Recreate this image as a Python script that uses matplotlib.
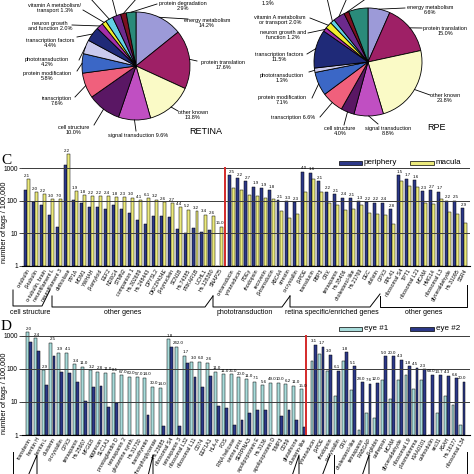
import numpy as np
import matplotlib
matplotlib.use('Agg')
import matplotlib.pyplot as plt
from matplotlib.patches import Rectangle
from matplotlib.lines import Line2D
from matplotlib.ticker import NullLocator

plt.rcParams['font.family'] = ['Liberation Sans', 'DejaVu Sans']

W = H = 474
fig = plt.figure(figsize=(4.74, 4.74), dpi=100)


def fx(x):
    return x / W


def fy(y):
    return 1 - y / H


# ---------------- data: pies ----------------
pie_categories = ['energy metabolism', 'protein translation', 'other known', 'signal transduction',
                  'cell structure', 'transcription', 'protein modification', 'phototransduction',
                  'transcription factors', 'neuron growth and function',
                  'vitamin A metabolism/transport', 'cell cycle', 'immune response',
                  'lipid metabolism', 'protein degradation']
retina_pct = [14.2, 17.6, 13.8, 9.6, 10.0, 7.6, 5.8, 4.2, 4.4, 2.0, 1.3, 2.3, 2.5, 1.7, 2.9]
rpe_pct = [6.6, 15.0, 23.8, 8.8, 4.0, 6.6, 7.1, 1.3, 11.5, 1.2, 2.0, 1.3, 3.5, 1.5, 5.8]
pie_colors = ['#9c9ad8', '#9e2066', '#fafac6', '#c04fc2', '#5a1764', '#f0607c', '#3b67c6',
              '#cacaee', '#1f2a78', '#a22eaa', '#f2ee2e', '#62d2e6', '#6c2a8c', '#7a1022',
              '#2a8a7a']

retina_texts = ['energy metabolism\n14.2%', 'protein translation\n17.6%', 'other known\n13.8%',
                'signal transduction 9.6%', 'cell structure\n10.0%', 'transcription\n7.6%',
                'protein modification\n5.8%', 'phototransduction\n4.2%',
                'transcription factors\n4.4%', 'neuron growth\nand function 2.0%',
                'vitamin A metabolism/\ntransport 1.3%', None, None, None,
                'protein degradation\n2.9%']
retina_text_pos = [(207, 23), (223, 65), (193, 115), (138, 136), (74, 130), (57, 101),
                   (47, 76), (47, 62), (50, 43), (50, 26), (55, 8), None, None, None, (183, 6)]
retina_line_end = [(188, 19), (197, 61), (178, 111), (136, 131), (94, 125), (75, 97),
                   (77, 71), (79, 60), (77, 37), (72, 25), (83, 10), (90, -2), (112, -2),
                   (137, -2), (157, 4)]

rpe_texts = ['energy metabolism\n6.6%', 'protein translation\n15.0%', 'other known\n23.8%',
             'signal transduction\n8.8%', 'cell structure\n4.0%', 'transcription 6.6%',
             'protein modification\n7.1%', 'phototransduction\n1.3%',
             'transcription factors\n11.5%', 'neuron growth and\nfunction 1.2%',
             'vitamin A metabolism\nor transport 2.0%', 'cell cycle\n1.3%', None, None, None]
rpe_text_pos = [(430, 10), (445, 31), (445, 98), (388, 131), (340, 131), (293, 117),
                (282, 100), (282, 78), (279, 57), (283, 35), (280, 20), (268, 1), None, None,
                None]
rpe_line_end = [(405, 8), (422, 28), (430, 95), (378, 124), (344, 125), (320, 117),
                (312, 98), (309, 72), (307, 54), (308, 33), (310, 18), (327, -2), (347, -2),
                (367, -2), None]

# ---------------- data: panel C ----------------
c_genes_left = ['α-tubulin', 'β-tubulin', 'α-tubulin, brain', 'neurofilament L',
                'neurofilament 3', 'dethiolase', 'PP1A', 'MOM1', 'YWHAH', 'β-amyloid', 'EEF2',
                'NDRG4', 'STMN2', 'companion 1', 'Hs.302689', 'Hs.248443', 'DPYSL2',
                'DKFZP434E', 'β-synuclein', 'SCN1B', 'Hs.74385', 'PRKAR1B', 'UCHL1',
                'Hs.128380', 'SNAP25']
c_periphery_left = [219, 91, 72, 37, 16, 1230, 105, 83, 64, 64, 56, 72, 57, 42, 26, 20, 33,
                    35, 31, 14, 10, 15, 11, 13, 1.0]
c_macula_left = [460, 182, 158, 110, 110, 2700, 200, 150, 140, 140, 135, 130, 130, 125, 105,
                 120, 107, 91, 85, 62, 53, 47, 37, 33, 16]
c_ratio_left = ['2.1', '2.0', '2.2', '3.0', '7.0', '2.2', '1.9', '1.8', '2.2', '2.2', '2.4',
                '1.8', '2.3', '3.0', '4.1', '6.1', '3.2', '2.6', '2.7', '4.4', '5.2', '3.2',
                '3.4', '2.6', '15.0']

c_genes_right = ['α-transducin', 'γ-transducin', 'PDEγ', 'rhodopsin', 'recoverin',
                 'β-transducin', 'ABCA4', 'arrestin', 'α-crystallin', 'β-PDE', 'transducin',
                 'RBP3', 'CRX', 'tetraspanin', 'Hs.35406', 'cholesterol-like', 'Hs.21769',
                 'DEC', 'abilstin', 'GPX3', 'RPL41', 'ribosomal S4', 'TPT1', 'ribosomal L21',
                 'MCAM', 'HMG14', 'ribosomal L3', 'glyceraldehyde', 'Hs.31095', 'SSR4']
c_periphery_right = [610, 490, 400, 270, 240, 210, 105, 95, 92, 770, 720, 390, 190, 160, 125,
                     120, 95, 90, 88, 88, 55, 620, 470, 420, 200, 210, 190, 100, 100, 60]
c_macula_right = [245, 220, 150, 140, 125, 115, 50, 29, 40, 190, 450, 185, 86, 76, 52, 57, 73,
                  41, 40, 37, 20, 410, 280, 260, 87, 78, 110, 45, 40, 21]
c_ratio_right = ['2.5', '2.2', '2.7', '1.9', '1.9', '1.8', '2.1', '3.3', '2.3', '4.0', '1.6',
                 '2.1', '2.2', '2.1', '2.4', '2.1', '1.3', '2.2', '2.2', '2.4', '2.8', '1.5',
                 '1.7', '1.6', '2.3', '2.7', '1.7', '2.2', '2.5', '2.9']

# ---------------- data: panel D ----------------
d_genes_left = ['transferrin', 'ferritin H', 'ferritin L', 'clusterin', 'α-crystallin', 'GPX3',
                'tetraspanin', 'Hs.25907', 'MFGE8', 'aggrecan', 'SLC1A1', 'prostaglandin D',
                'tetraspanin 2', 'glutamine synth.', 'Hs.31730', 'transthyretin',
                'phosphoglycerate', 'Hs.23685', 'ribosomal S4', 'tetraspanin 3',
                'ribosomal L32', 'ribosomal L11', 'CD74', 'EEF1A1', 'HLA-A', 'FOS',
                'RNA helicase', 'serine prot.', 'SERPINA3', 'apolipoprotein E', 'Hs.3136',
                'apolipoprotein D', 'TIMP3', 'CD59', 'glutathione', 'clusterin-like']
d_eye1_left = [1300, 870, 93, 630, 310, 310, 140, 117, 94, 83, 77, 75, 66, 59, 57, 54, 29, 27,
               810, 470, 250, 167, 167, 155, 83, 70, 70, 56, 50, 41, 33, 38, 38, 35, 31, 25]
d_eye2_left = [650, 360, 32, 250, 80, 76, 41, 10.6, 29, 30, 7, 9.3, 1.0, 1.0, 1.0, 3.9, 1.0,
               1.9, 450, 1.9, 147, 56, 28, 60, 7.5, 6.4, 2.0, 2.8, 4.5, 5.8, 5.9, 1.0, 3.8,
               5.6, 2.8, 1.7]
d_ratio_left = ['2.0', '2.4', '2.9', '2.5', '3.9', '4.1', '3.4', '11.0', '3.2', '2.8', '11.0',
                '8.1', '67.0', '60.0', '57.0', '14.0', '30.0', '14.0', '1.8', '242.0', '1.7',
                '3.0', '6.0', '2.6', '11.0', '11.0', '35.0', '20.0', '11.0', '7.1', '5.6',
                '49.0', '10.0', '6.2', '11.0', '15.0']

d_genes_right = ['γ-transducin', 'β-PDE', 'rhodopsin', 'α-crystallin', 'CRX',
                 'cholesterol-like', 'tetraspanin', 'RABGAP', 'β-globin', 'cathepsin', 'MCAM',
                 'glyceraldehyde', 'ribosomal L9', 'plasmalemma', 'KIAA0101', 'calmodulin',
                 'sec31', 'ASAH', 'Hs.16177', 'ribosomal L34']
d_eye1_right = [170, 280, 90, 15, 180, 23, 1.4, 4.7, 3.2, 48, 12, 45, 65, 25, 45, 1.0, 4.8,
                15, 8, 2.0]
d_eye2_right = [540, 470, 270, 90, 320, 120, 40, 36, 38, 240, 240, 190, 120, 110, 100, 68, 65,
                63, 52, 41]
d_ratio_right = ['3.1', '1.7', '3.0', '6.1', '1.8', '5.1', '28.0', '7.6', '12.0', '5.0',
                 '20.0', '4.3', '1.8', '4.5', '2.3', '68.0', '13.7', '4.3', '6.6', '20.0']

# ---------------- colours ----------------
NAVY = '#2c3888'
YELLOW = '#ecea7c'
CYAN = '#a8dcdb'
RED = '#d42a2a'


# ---------------- pies ----------------
def draw_pie(cx, cy, r, pct, texts, tpos, lend, title, tpos_title):
    pad = 1.03
    ax = fig.add_axes([fx(cx - r * pad), fy(cy + r * pad), 2 * r * pad / W, 2 * r * pad / H])
    ax.pie(pct, colors=pie_colors, startangle=90, counterclock=False,
           wedgeprops=dict(edgecolor='black', linewidth=0.6))
    ax.set_xlim(-pad, pad)
    ax.set_ylim(-pad, pad)
    ax.set_aspect('auto')
    frac = np.array(pct) / np.sum(pct)
    mids = np.cumsum(frac) - frac / 2
    for i, m in enumerate(mids):
        th = np.deg2rad(90 - 360 * m)
        sx, sy = cx + r * np.cos(th), cy - r * np.sin(th)
        if lend[i] is not None:
            ex, ey = lend[i]
            fig.add_artist(Line2D([fx(sx), fx(ex)], [fy(sy), fy(ey)], color='black', lw=0.6))
        if texts[i] is not None:
            tx, ty = tpos[i]
            fig.text(fx(tx), fy(ty), texts[i], fontsize=4, ha='center', va='center',
                     linespacing=1.0)
    fig.text(fx(tpos_title[0]), fy(tpos_title[1]), title, fontsize=6.5, ha='center',
             va='center')


draw_pie(136, 66, 54, retina_pct, retina_texts, retina_text_pos, retina_line_end, 'RETINA',
         (206, 132))
draw_pie(368, 62, 54, rpe_pct, rpe_texts, rpe_text_pos, rpe_line_end, 'RPE', (437, 127))


# ---------------- bar panels ----------------
def bar_panel(top, bottom, ytop, la, lb, ra, rb, rl, rr, gl, gr, ca, cb, gap_start, red_x,
              xlim):
    ax = fig.add_axes([fx(22), fy(bottom), 448 / W, (bottom - top) / H])
    xl = np.arange(len(la))
    xr = gap_start + np.arange(len(ra))
    x = np.concatenate([xl, xr])
    a = np.array(list(la) + list(ra), dtype=float)
    b = np.array(list(lb) + list(rb), dtype=float)
    w, off = 0.37, 0.2
    ax.bar(x - off, a - 1, bottom=1, width=w, color=ca, edgecolor='black', lw=0.35, zorder=2)
    ax.bar(x + off, b - 1, bottom=1, width=w, color=cb, edgecolor='black', lw=0.35, zorder=2)
    ax.set_yscale('log')
    ax.set_ylim(1, ytop)
    ax.set_xlim(*xlim)
    for yv in (10, 100, 1000):
        ax.axhline(yv, color='#3a3a3a', lw=0.7, zorder=3)
    ax.plot([red_x, red_x], [1, 1000], color=RED, lw=1.4, zorder=4)
    labels = list(rl) + list(rr)
    for xi, ai, bi, lab in zip(x, a, b, labels):
        ax.text(xi, max(ai, bi) * 1.1, lab, fontsize=3.2, ha='center', va='bottom', zorder=5)
    ax.set_yticks([1, 10, 100, 1000])
    ax.set_yticklabels(['1', '10', '100', '1000'], fontsize=4.8)
    ax.yaxis.set_minor_locator(NullLocator())
    ax.tick_params(axis='y', length=2, width=0.5, pad=1)
    ax.set_xticks(x)
    ax.set_xticklabels(list(gl) + list(gr), rotation=60, ha='right', va='top',
                       rotation_mode='anchor', fontsize=3.8)
    ax.tick_params(axis='x', length=0, pad=1.5)
    for s in ('top', 'right', 'left'):
        ax.spines[s].set_visible(False)
    ax.spines['bottom'].set_linewidth(0.8)
    return ax


bar_panel(150, 266, 3580, c_periphery_left, c_macula_left, c_periphery_right, c_macula_right,
          c_ratio_left, c_ratio_right, c_genes_left, c_genes_right, NAVY, YELLOW, 25.5, 24.65,
          (-0.62, 55.24))
bar_panel(325, 435, 2154, d_eye1_left, d_eye2_left, d_eye1_right, d_eye2_right,
          d_ratio_left, d_ratio_right, d_genes_left, d_genes_right, CYAN, NAVY, 36.33, 35.38,
          (-0.89, 56.3))

# y labels and panel letters
fig.text(fx(4.5), fy(222), 'number of tags / 100,000', rotation=90, fontsize=5.3, ha='center',
         va='center')
fig.text(fx(4.5), fy(393), 'number of tags / 100,000', rotation=90, fontsize=5.3, ha='center',
         va='center')
fig.text(fx(1), fy(160), 'C', fontsize=11, family='Liberation Serif', ha='left', va='center')
fig.text(fx(1), fy(327), 'D', fontsize=11, family='Liberation Serif', ha='left', va='center')


# legends
def legend_item(x0, x1, y, color, label):
    fig.add_artist(Rectangle((fx(x0), fy(y + 2.2)), (x1 - x0) / W, 4.4 / H, facecolor=color,
                             edgecolor='black', lw=0.5, transform=fig.transFigure))
    fig.text(fx(x1 + 2), fy(y), label, fontsize=5.8, ha='left', va='center')


legend_item(339, 362, 163, NAVY, 'periphery')
legend_item(410, 434, 163, YELLOW, 'macula')
legend_item(339, 362, 329, CYAN, 'eye #1')
legend_item(410, 434, 329, NAVY, 'eye #2')


# brackets
def pline(xs, ys, lw=0.7):
    fig.add_artist(Line2D([fx(v) for v in xs], [fy(v) for v in ys], color='black', lw=lw))


pline([13, 13, 42, 50], [290, 306, 306, 290])
pline([52, 52, 205, 213], [296, 307, 307, 296])
pline([213, 213, 282, 290], [296, 307, 307, 296])
pline([290, 290, 370, 380], [296, 307, 307, 294])
pline([380, 380, 467, 467], [296, 307, 307, 285])
fig.text(fx(30), fy(313), 'cell structure', fontsize=5, ha='center', va='center')
fig.text(fx(123), fy(313), 'other genes', fontsize=5, ha='center', va='center')
fig.text(fx(245), fy(313), 'phototransduction', fontsize=5, ha='center', va='center')
fig.text(fx(332), fy(313), 'retina specific/enriched genes', fontsize=5, ha='center',
         va='center')
fig.text(fx(424), fy(313), 'other genes', fontsize=5, ha='center', va='center')

pline([13, 13], [452, 476])
pline([28, 37, 37], [476, 455, 476])
pline([148, 153, 153], [476, 455, 476])
pline([292, 299, 299], [476, 455, 476])
pline([322, 330], [476, 455])
pline([334, 334], [455, 476])
pline([362, 369, 369], [476, 455, 476])
pline([467, 467], [452, 476])

fig.savefig('out.png', dpi=100)
